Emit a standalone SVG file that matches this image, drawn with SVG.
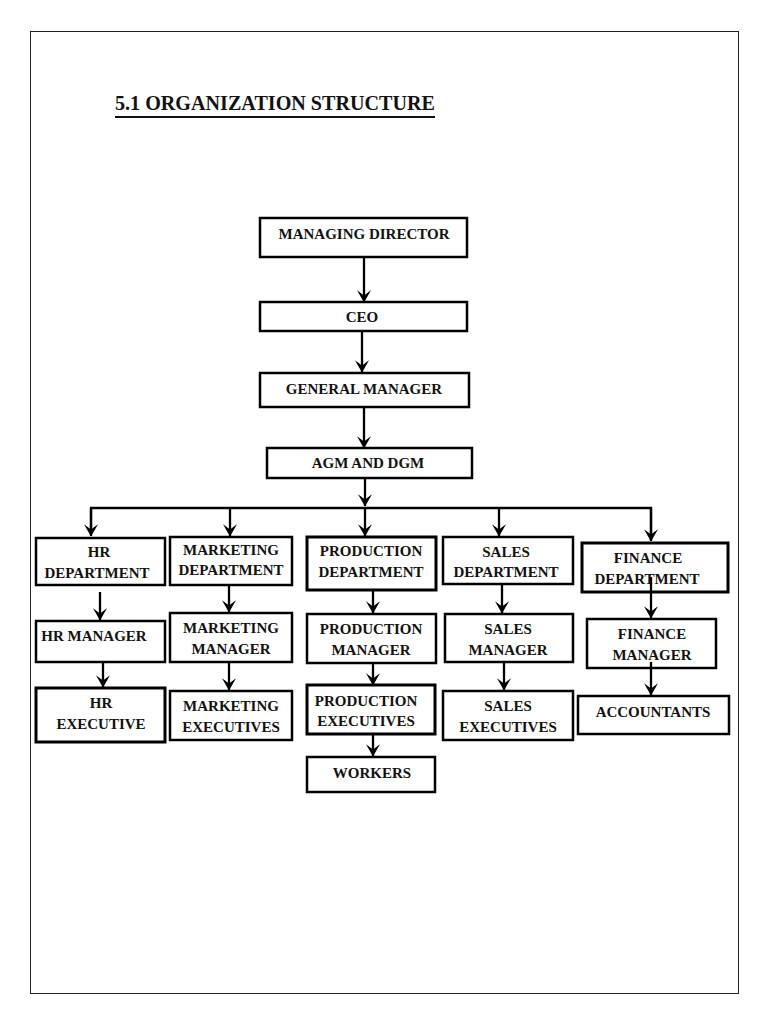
<svg xmlns="http://www.w3.org/2000/svg" width="768" height="1024" viewBox="0 0 768 1024">
<defs>
<marker id="ahd" markerUnits="userSpaceOnUse" markerWidth="14" markerHeight="14" refX="11" refY="6" orient="auto" viewBox="0 0 12 12">
<path d="M1,0 L11.5,6 L1,12 L5.5,6 Z" fill="#000"/>
</marker>
<style>
.box{fill:#fff;stroke:#000;stroke-width:2.5}
.thick{stroke-width:3}
.t{font-family:"Liberation Serif","Times New Roman",serif;font-weight:bold;font-size:15px;fill:#111;text-anchor:middle}
.c{stroke:#000;stroke-width:2.3;fill:none}
.a{marker-end:url(#ahd)}
</style>
</defs>
<rect x="0" y="0" width="768" height="1024" fill="#fff"/>
<rect x="30.5" y="31.5" width="708" height="962" fill="none" stroke="#222" stroke-width="1"/>
<text x="115" y="110" font-family="'Liberation Serif','Times New Roman',serif" font-weight="bold" font-size="20" fill="#111" textLength="320" lengthAdjust="spacingAndGlyphs">5.1 ORGANIZATION STRUCTURE</text>
<line x1="115" y1="117" x2="435" y2="117" stroke="#111" stroke-width="2"/>

<g id="connectors">
<line class="c a" x1="364" y1="257" x2="364" y2="302"/>
<line class="c a" x1="362" y1="331" x2="362" y2="372"/>
<line class="c a" x1="364" y1="407" x2="364" y2="448"/>
<line class="c a" x1="365" y1="478" x2="365" y2="506"/>
<polyline class="c" points="91,533 91,508 651,508 651,540"/>
<line class="c a" x1="91" y1="508" x2="91" y2="536"/>
<line class="c a" x1="230" y1="508" x2="230" y2="536"/>
<line class="c a" x1="365" y1="508" x2="365" y2="536"/>
<line class="c a" x1="499" y1="508" x2="499" y2="536"/>
<line class="c a" x1="651" y1="508" x2="651" y2="541"/>
<line class="c a" x1="100" y1="592" x2="100" y2="620"/>
<line class="c a" x1="103" y1="662" x2="103" y2="687"/>
<line class="c a" x1="229" y1="585" x2="229" y2="612"/>
<line class="c a" x1="229" y1="662" x2="229" y2="690"/>
<line class="c a" x1="373" y1="590" x2="373" y2="613"/>
<line class="c a" x1="373" y1="663" x2="373" y2="685"/>
<line class="c a" x1="373" y1="735" x2="373" y2="756"/>
<line class="c a" x1="502" y1="585" x2="502" y2="613"/>
<line class="c a" x1="504" y1="663" x2="504" y2="690"/>
</g>

<g id="md"><rect class="box" x="260" y="218" width="207" height="39"/><text class="t" x="364" y="239">MANAGING DIRECTOR</text></g>
<g id="ceo"><rect class="box" x="260" y="302" width="207" height="29"/><text class="t" x="362" y="322">CEO</text></g>
<g id="gm"><rect class="box" x="260" y="373" width="209" height="34"/><text class="t" x="364" y="394">GENERAL MANAGER</text></g>
<g id="agm"><rect class="box" x="267" y="448" width="205" height="30"/><text class="t" x="368" y="468">AGM AND DGM</text></g>

<g id="hr-dept"><rect class="box" x="36" y="538" width="129" height="47"/><text class="t" x="99" y="557">HR</text><text class="t" x="97" y="578">DEPARTMENT</text></g>
<g id="mkt-dept"><rect class="box" x="170" y="537" width="122" height="48"/><text class="t" x="231" y="555">MARKETING</text><text class="t" x="231" y="575">DEPARTMENT</text></g>
<g id="prod-dept"><rect class="box thick" x="307" y="537" width="129" height="53"/><text class="t" x="371" y="556">PRODUCTION</text><text class="t" x="371" y="577">DEPARTMENT</text></g>
<g id="sales-dept"><rect class="box" x="443" y="537" width="130" height="47"/><text class="t" x="506" y="557">SALES</text><text class="t" x="506" y="577">DEPARTMENT</text></g>
<g id="fin-dept"><rect class="box thick" x="582" y="543" width="146" height="49"/><text class="t" x="648" y="563">FINANCE</text><text class="t" x="647" y="584">DEPARTMENT</text></g>
<line class="c a" x1="651" y1="577" x2="651" y2="618"/>

<g id="hr-mgr"><rect class="box" x="36" y="621" width="129" height="41"/><text class="t" x="94" y="641">HR MANAGER</text></g>
<g id="mkt-mgr"><rect class="box" x="170" y="613" width="122" height="49"/><text class="t" x="231" y="633">MARKETING</text><text class="t" x="231" y="654">MANAGER</text></g>
<g id="prod-mgr"><rect class="box" x="307" y="614" width="129" height="49"/><text class="t" x="371" y="634">PRODUCTION</text><text class="t" x="371" y="655">MANAGER</text></g>
<g id="sales-mgr"><rect class="box" x="445" y="614" width="128" height="48"/><text class="t" x="508" y="634">SALES</text><text class="t" x="508" y="655">MANAGER</text></g>
<g id="fin-mgr"><rect class="box" x="587" y="619" width="129" height="49"/><text class="t" x="652" y="639">FINANCE</text><text class="t" x="652" y="660">MANAGER</text></g>
<line class="c a" x1="651" y1="662" x2="651" y2="695"/>

<g id="hr-exec"><rect class="box thick" x="36" y="688" width="129" height="54"/><text class="t" x="101" y="708">HR</text><text class="t" x="101" y="729">EXECUTIVE</text></g>
<g id="mkt-exec"><rect class="box" x="170" y="691" width="122" height="49"/><text class="t" x="231" y="711">MARKETING</text><text class="t" x="231" y="732">EXECUTIVES</text></g>
<g id="prod-exec"><rect class="box thick" x="307" y="685" width="128" height="49"/><text class="t" x="366" y="706">PRODUCTION</text><text class="t" x="366" y="726">EXECUTIVES</text></g>
<g id="sales-exec"><rect class="box" x="443" y="691" width="130" height="49"/><text class="t" x="508" y="711">SALES</text><text class="t" x="508" y="732">EXECUTIVES</text></g>
<g id="accountants"><rect class="box" x="578" y="696" width="151" height="38"/><text class="t" x="653" y="717">ACCOUNTANTS</text></g>
<g id="workers"><rect class="box" x="307" y="757" width="128" height="35"/><text class="t" x="372" y="778">WORKERS</text></g>
</svg>
